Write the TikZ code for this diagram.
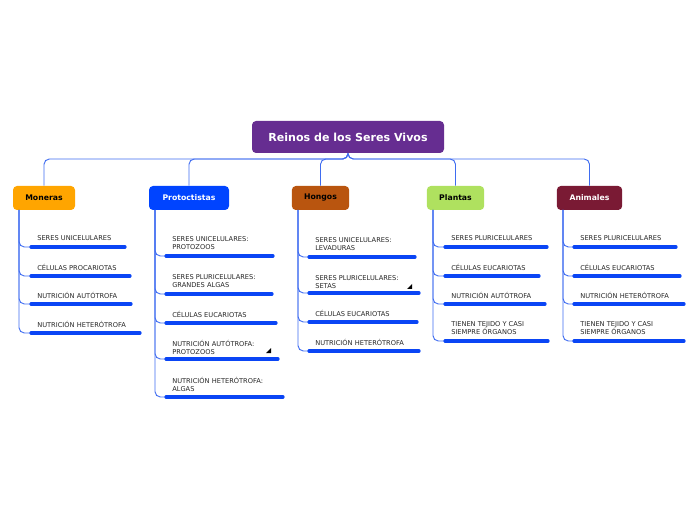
\documentclass[tikz,border=0pt]{standalone}
\usepackage{fontspec}
\setmainfont{DejaVu Sans}
\definecolor{ul}{HTML}{0A45F5}
\definecolor{br}{HTML}{3F6CF0}
\definecolor{rootc}{HTML}{662D91}
\tikzset{
 root/.style={fill=rootc,rounded corners=3pt,text=white,font=\bfseries\fontsize{8.3}{9}\selectfont,minimum width=144pt,minimum height=24pt,inner sep=0},
 king/.style={rounded corners=3pt,font=\bfseries\fontsize{5.8}{7}\selectfont,minimum height=18pt,inner sep=0},
 itm/.style={anchor=north west,align=left,inner sep=0,font=\fontsize{5}{6.3}\selectfont,text=black!85},
 uline/.style={draw=ul,line width=2.4pt,line cap=round},
 branch/.style={draw=br,line width=0.7pt,rounded corners=4pt},
}
\newcommand{\itm}[8]{% name, branch x, text x, text top y, line y, line end x, text, parent
 \node[itm] (#1) at (#3,#4) {#7};
 \coordinate (#1a) at (#3-6,#5);
 \coordinate (#1b) at (#6,#5);
 \draw[branch] (#8) |- (#1a);
 \draw[uline] (#1a) -- (#1b);
}
\begin{document}
\begin{tikzpicture}[x=0.75pt,y=-0.75pt]
\useasboundingbox (0,0) rectangle (696,520);
\node[root] (R) at (348,137) {Reinos de los Seres Vivos};
\node[king,fill={rgb,255:red,255;green,165;blue,0},minimum width=46.5pt] (M) at (44,198) {Moneras};
\node[king,fill={rgb,255:red,0;green,68;blue,255},text=white,minimum width=60pt] (P) at (189,198) {Protoctistas};
\node[king,fill={rgb,255:red,185;green,85;blue,15},minimum width=43pt] (H) at (320.5,198) {Hongos};
\node[king,fill={rgb,255:red,175;green,225;blue,95},minimum width=43pt] (L) at (455.5,198) {Plantas};
\node[king,fill={rgb,255:red,122;green,26;blue,52},text=white,minimum width=49pt] (A) at (589.5,198) {Animales};
\coordinate (J) at (348,159);
\foreach \k in {M,P,H,L,A}{\draw[branch] (R.south) -- (J) -| (\k.north);}
\coordinate (Mb) at (19,210);\coordinate (Pb) at (155,210);\coordinate (Hb) at (298,210);
\coordinate (Lb) at (433,210);\coordinate (Ab) at (563,210);
\itm{m1}{}{37}{235}{247}{125}{SERES UNICELULARES}{Mb}
\itm{m2}{}{37}{264}{276}{130}{CÉLULAS PROCARIOTAS}{Mb}
\itm{m3}{}{37}{292}{304}{131}{NUTRICIÓN AUTÓTROFA}{Mb}
\itm{m4}{}{37}{321}{333}{140}{NUTRICIÓN HETERÓTROFA}{Mb}
\itm{p1}{}{172}{236}{256}{273}{SERES UNICELULARES:\\PROTOZOOS}{Pb}
\itm{p2}{}{172}{274}{294}{272}{SERES PLURICELULARES:\\GRANDES ALGAS}{Pb}
\itm{p3}{}{172}{311}{323}{276}{CÉLULAS EUCARIOTAS}{Pb}
\itm{p4}{}{172}{340}{359}{278}{NUTRICIÓN AUTÓTROFA:\\PROTOZOOS}{Pb}
\itm{p5}{}{172}{377}{397}{283}{NUTRICIÓN HETERÓTROFA:\\ALGAS}{Pb}
\itm{h1}{}{315}{237}{257}{415}{SERES UNICELULARES:\\LEVADURAS}{Hb}
\itm{h2}{}{315}{275}{293}{419}{SERES PLURICELULARES:\\SETAS}{Hb}
\itm{h3}{}{315}{310}{322}{417}{CÉLULAS EUCARIOTAS}{Hb}
\itm{h4}{}{315}{339}{351}{419}{NUTRICIÓN HETERÓTROFA}{Hb}
\itm{l1}{}{451}{235}{247}{547}{SERES PLURICELULARES}{Lb}
\itm{l2}{}{451}{264}{276}{539}{CÉLULAS EUCARIOTAS}{Lb}
\itm{l3}{}{451}{292}{304}{545}{NUTRICIÓN AUTÓTROFA}{Lb}
\itm{l4}{}{451}{321}{341}{548}{TIENEN TEJIDO Y CASI\\SIEMPRE ÓRGANOS}{Lb}
\itm{a1}{}{580}{235}{247}{676}{SERES PLURICELULARES}{Ab}
\itm{a2}{}{580}{264}{276}{680}{CÉLULAS EUCARIOTAS}{Ab}
\itm{a3}{}{580}{292}{304}{684}{NUTRICIÓN HETERÓTROFA}{Ab}
\itm{a4}{}{580}{321}{341}{684}{TIENEN TEJIDO Y CASI\\SIEMPRE ÓRGANOS}{Ab}
\fill (266,353) -- (271,353) -- (271,348) -- cycle;
\fill (407,289) -- (412,289) -- (412,284) -- cycle;
\end{tikzpicture}
\end{document}
